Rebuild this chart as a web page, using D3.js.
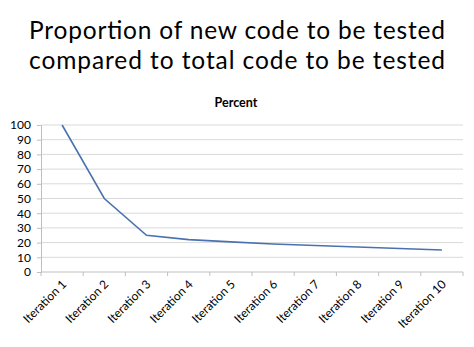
<!DOCTYPE html>
<html><head><meta charset="utf-8">
<script src="https://cdn.jsdelivr.net/npm/d3@7"></script>
<style>body{margin:0;background:#fff}svg{display:block}</style>
</head><body>
<script>
const titleLines = ["Proportion of new code to be tested", "compared to total code to be tested"];
const chartTitle = "Percent";
const categories = ["Iteration 1","Iteration 2","Iteration 3","Iteration 4","Iteration 5","Iteration 6","Iteration 7","Iteration 8","Iteration 9","Iteration 10"];
const percentValues = [100, 50, 25, 22, 20.5, 19, 18, 17, 16, 15];
const yTicks = [0,10,20,30,40,50,60,70,80,90,100];

const W = 474, H = 347;
const m = {left: 41, right: 11, top: 125, bottom: 75};
const font = "Lato, 'Open Sans', sans-serif";
const svg = d3.select("body").append("svg").attr("width", W).attr("height", H);

svg.selectAll("text.title").data(titleLines).enter().append("text")
  .attr("class", "title")
  .attr("x", 237).attr("y", (d,i) => 39 + i*30)
  .attr("text-anchor", "middle").attr("font-family", font).attr("font-size", 24.5)
  .attr("textLength", 416).attr("lengthAdjust", "spacing")
  .attr("fill", "#000").text(d => d);

svg.append("text").attr("x", 236).attr("y", 107).attr("text-anchor", "middle")
  .attr("font-family", font).attr("font-weight", "bold").attr("font-size", 12.5)
  .text(chartTitle);

const x = d3.scaleBand().domain(categories).range([m.left, W - m.right]);
const y = d3.scaleLinear().domain([0, 100]).range([H - m.bottom, m.top]);

// gridlines
svg.append("g").selectAll("line").data(yTicks.filter(t => t > 0)).enter().append("line")
  .attr("x1", m.left).attr("x2", W - m.right)
  .attr("y1", d => y(d)).attr("y2", d => y(d))
  .attr("stroke", "#d9d9d9").attr("stroke-width", 1);

// y axis
const yAxis = svg.append("g").attr("transform", `translate(${m.left},0)`)
  .call(d3.axisLeft(y).tickValues(yTicks).tickSize(4).tickPadding(6));
yAxis.selectAll("path,line").attr("stroke", "#bfbfbf");
yAxis.selectAll("text").attr("font-family", font).attr("font-size", 12).attr("fill", "#000");

// x axis
const xAxis = svg.append("g").attr("transform", `translate(0,${H - m.bottom})`)
  .call(d3.axisBottom(x).tickSize(0).tickPadding(0));
xAxis.select("path").attr("stroke", "#bfbfbf").attr("d", `M${m.left},0H${W - m.right}`);
xAxis.selectAll(".tick line").remove();
svg.append("g").selectAll("line").data(categories.concat(["_end"])).enter().append("line")
  .attr("x1", (d,i) => m.left + i * x.step()).attr("x2", (d,i) => m.left + i * x.step())
  .attr("y1", H - m.bottom).attr("y2", H - m.bottom + 4).attr("stroke", "#bfbfbf");
xAxis.selectAll("text")
  .attr("font-family", font).attr("font-size", 12).attr("fill", "#000")
  .attr("text-anchor", "end").attr("dy", 0)
  .attr("transform", "translate(5,13) rotate(-45)");

// line
const line = d3.line().x((d,i) => x(categories[i]) + x.bandwidth()/2).y(d => y(d));
svg.append("path").datum(percentValues).attr("d", line)
  .attr("fill", "none").attr("stroke", "#4a72b0").attr("stroke-width", 1.6);
</script>
</body></html>
